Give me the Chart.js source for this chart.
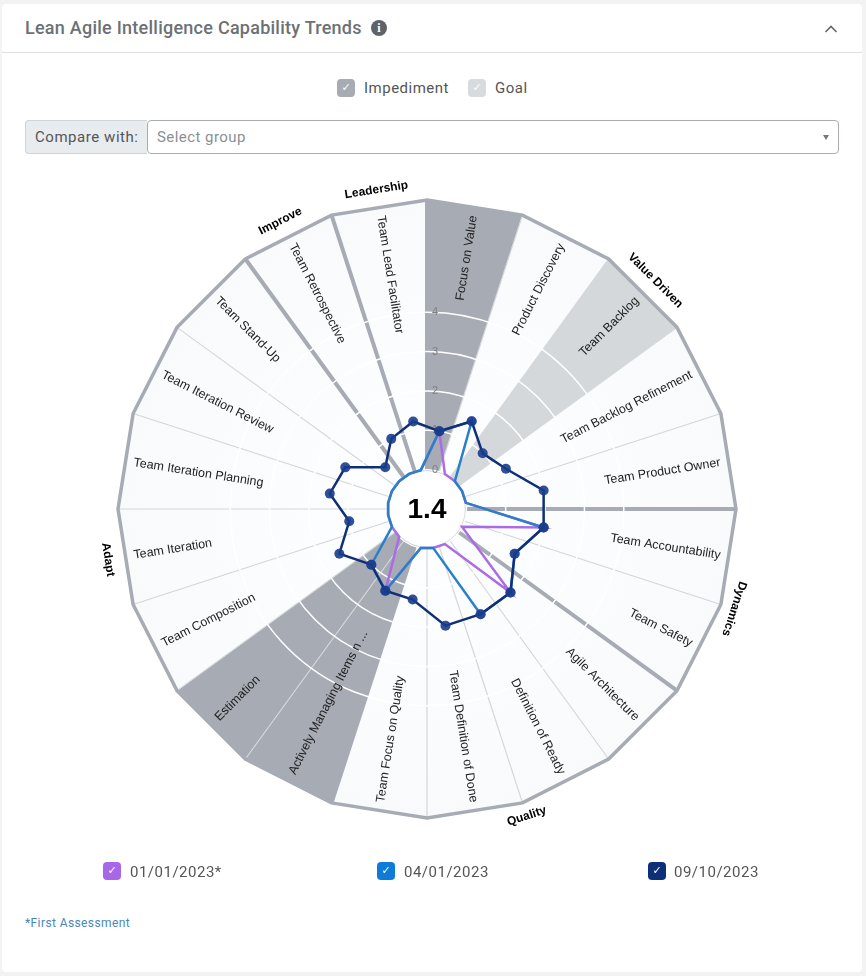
<!DOCTYPE html>
<html>
<head>
<meta charset="utf-8">
<title>Lean Agile Intelligence Capability Trends</title>
<script src="https://cdn.jsdelivr.net/npm/chart.js@4"></script>
<style>
  html, body { margin: 0; padding: 0; background: #f3f3f3; }
  body { width: 866px; height: 976px; position: relative; overflow: hidden; font-family: Roboto, sans-serif; color: #555; }
  #card { position: absolute; left: 2px; top: 4px; width: 860px; height: 968px; background: #fff; border-radius: 4px; }
  #rule { position: absolute; left: 2px; top: 52px; width: 860px; height: 1px; background: #dfe2e5; }
  .abs { position: absolute; white-space: nowrap; }
  #title { left: 25px; top: 17px; font-size: 18px; line-height: 22px; font-weight: 500; color: #6c7176; letter-spacing: 0.25px; }
  #info { left: 371px; top: 20px; width: 16px; height: 16px; border-radius: 50%; background: #5f6368; color: #fff; font: bold 12px/16px "Liberation Serif", serif; text-align: center; }
  .box { position: absolute; width: 18px; height: 18px; border-radius: 4px; color: #fff; font: bold 11px/18px "DejaVu Sans", sans-serif; text-align: center; }
  .lbl { font-size: 15px; line-height: 18px; letter-spacing: 0.5px; color: #555; }
  #prefix { left: 25px; top: 120px; width: 122px; height: 34px; box-sizing: border-box; background: #e9ecef; border: 1px solid #ced4da; border-right: 0; border-radius: 4px 0 0 4px; font-size: 15px; line-height: 33px; padding-left: 9px; letter-spacing: 0.55px; color: #555; }
  #select { left: 147px; top: 120px; width: 692px; height: 34px; box-sizing: border-box; background: #fff; border: 1px solid #a9adb2; border-radius: 4px; font-size: 15px; line-height: 33px; padding-left: 9px; letter-spacing: 0.45px; color: #8a8f94; }
  #caret { left: 823px; top: 135px; width: 0; height: 0; border-left: 3.5px solid transparent; border-right: 3.5px solid transparent; border-top: 5px solid #777; }
  #note { left: 25px; top: 915px; font-size: 12px; line-height: 16px; letter-spacing: 0.4px; color: #4a86b8; }
  #chartWrap { position: absolute; left: 27px; top: 149px; width: 800px; height: 720px; }
</style>
</head>
<body>
<div id="card"></div>
<div id="rule"></div>
<div class="abs" id="title">Lean Agile Intelligence Capability Trends</div>
<div class="abs" id="info">i</div>
<svg class="abs" style="left:824px;top:24px" width="14" height="10"><path d="M1.5 8 L7 2.5 L12.5 8" fill="none" stroke="#666" stroke-width="1.6"/></svg>

<div class="box" style="left:337px;top:79px;background:#a7abb3">✓</div>
<div class="abs lbl" style="left:364px;top:79px">Impediment</div>
<div class="box" style="left:468px;top:79px;background:#d8dbde">✓</div>
<div class="abs lbl" style="left:495px;top:79px">Goal</div>

<div class="abs" id="prefix">Compare with:</div>
<div class="abs" id="select">Select group</div>
<div class="abs" id="caret"></div>

<div id="chartWrap"><canvas id="trendChart" width="800" height="720"></canvas></div>

<div class="box" style="left:103px;top:862px;background:#a866e8">✓</div>
<div class="abs lbl" style="left:130px;top:863px">01/01/2023*</div>
<div class="box" style="left:377px;top:862px;background:#0f7bd8">✓</div>
<div class="abs lbl" style="left:404px;top:863px">04/01/2023</div>
<div class="box" style="left:648px;top:862px;background:#0c2f78">✓</div>
<div class="abs lbl" style="left:674px;top:863px">09/10/2023</div>
<div class="abs" id="note">*First Assessment</div>

<script>
// Capability names, clockwise from the top
const categories = [
    'Focus on Value', 'Product Discovery', 'Team Backlog', 'Team Backlog Refinement', 'Team Product Owner',
    'Team Accountability', 'Team Safety', 'Agile Architecture', 'Definition of Ready', 'Team Definition of Done',
    'Team Focus on Quality', 'Actively Managing Items n ...', 'Estimation', 'Team Composition', 'Team Iteration',
    'Team Iteration Planning', 'Team Iteration Review', 'Team Stand-Up', 'Team Retrospective', 'Team Lead Facilitator'
];

const groupNames = ['Value Driven', 'Dynamics', 'Quality', 'Adapt', 'Improve', 'Leadership'];
const groupStarts = [0, 5, 7, 11, 18, 19];

const impedimentItems = [0, 11, 12];
const goalItems = [2];

const seriesDates = ['01/01/2023*', '04/01/2023', '09/10/2023'];
const valuesFirst = [1, 0, 0, 0, 0, 2, 0, 2, 0, 0, 0, 1.33, 0, 0, 0, 0, 0, 0, 0, 0];
const valuesSecond = [1, 1.5, 0, 0, 0, 2, 1.5, 2, 2, 0, 0, 1.33, 1, 0, 0, 0, 0, 0, 0, 0];
const valuesThird = [1, 1.5, 1, 1.25, 2, 2, 1.5, 2, 2, 2, 1.33, 1.33, 1, 1.5, 1, 1.5, 1.33, 0.5, 1, 1.25];

const tickValues = [0, 1, 2, 3, 4];
const overallScore = '1.4';

const SECTOR_ANGLE = 360 / categories.length;
const HALF_SECTOR = (SECTOR_ANGLE / 2) * Math.PI / 180;
const GRAY = '#a6abb4';

// Point on the scale at a spoke between two sectors
function spokePoint(scale, index, dist) {
    return scale.getPointPosition(index, dist, -HALF_SECTOR);
}

// Sectors, spokes and outline go under the grid; hole and ticks go over it
const wheelPlugin = {
    id: 'wheel',
    beforeDraw(chart) {
        const ctx = chart.ctx;
        const scale = chart.scales.r;
        const R = scale.drawingArea;
        const n = categories.length;
        const cx = scale.xCenter, cy = scale.yCenter;

        ctx.save();
        const paleFill = ctx.createRadialGradient(cx, cy, 40, cx, cy, R);
        paleFill.addColorStop(0, '#fdfeff');
        paleFill.addColorStop(1, '#f8fafc');

        categories.forEach((name, i) => {
            const a = spokePoint(scale, i, R);
            const b = spokePoint(scale, i + 1, R);
            ctx.beginPath();
            ctx.moveTo(cx, cy);
            ctx.lineTo(a.x, a.y);
            ctx.lineTo(b.x, b.y);
            ctx.closePath();
            if (impedimentItems.includes(i)) ctx.fillStyle = GRAY;
            else if (goalItems.includes(i)) ctx.fillStyle = '#d5d8db';
            else ctx.fillStyle = paleFill;
            ctx.fill();
        });

        // thin spokes, then the thick ones where a group starts
        for (let i = 0; i < n; i++) {
            const thick = groupStarts.includes(i);
            const p = spokePoint(scale, i, R);
            ctx.beginPath();
            ctx.moveTo(cx, cy);
            ctx.lineTo(p.x, p.y);
            ctx.strokeStyle = thick ? GRAY : '#d4d7da';
            ctx.lineWidth = thick ? 4 : 1.2;
            ctx.stroke();
        }

        ctx.beginPath();
        for (let i = 0; i < n; i++) {
            const p = spokePoint(scale, i, R);
            if (i === 0) ctx.moveTo(p.x, p.y);
            else ctx.lineTo(p.x, p.y);
        }
        ctx.closePath();
        ctx.strokeStyle = GRAY;
        ctx.lineWidth = 3.5;
        ctx.stroke();
        ctx.restore();
    },
    beforeDatasetsDraw(chart) {
        const ctx = chart.ctx;
        const scale = chart.scales.r;
        const R = scale.drawingArea;
        const cx = scale.xCenter, cy = scale.yCenter;

        ctx.save();
        ctx.textBaseline = 'middle';

        // category names, anchored at their outer end
        ctx.font = '12.5px "Liberation Sans", Arial, sans-serif';
        ctx.fillStyle = '#222';
        categories.forEach((name, i) => {
            const deg = (i + 0.5) * SECTOR_ANGLE;
            const p = scale.getPointPosition(i, R - 12);
            const rightSide = deg < 180;
            ctx.save();
            ctx.translate(p.x, p.y);
            ctx.rotate((rightSide ? deg - 90 : deg - 270) * Math.PI / 180);
            ctx.textAlign = rightSide ? 'right' : 'left';
            ctx.fillText(name, 0, 0);
            ctx.restore();
        });

        // group names outside the outline
        ctx.font = 'bold 12px "Liberation Sans", Arial, sans-serif';
        ctx.fillStyle = '#000';
        ctx.textAlign = 'center';
        groupNames.forEach((name, g) => {
            const from = groupStarts[g];
            const to = g + 1 < groupStarts.length ? groupStarts[g + 1] : categories.length;
            const mid = (from + to) / 2;
            const deg = mid * SECTOR_ANGLE;
            const p = spokePoint(scale, mid, R + 14);
            ctx.save();
            ctx.translate(p.x, p.y);
            const flip = deg > 120 && deg < 300;
            ctx.rotate((flip ? deg - 180 : deg) * Math.PI / 180);
            ctx.fillText(name, 0, 0);
            ctx.restore();
        });

        // centre hole with the overall score
        ctx.beginPath();
        ctx.arc(cx, cy, scale.getDistanceFromCenterForValue(0) - 1, 0, Math.PI * 2);
        ctx.fillStyle = '#fff';
        ctx.fill();
        ctx.strokeStyle = '#d8dbde';
        ctx.lineWidth = 1;
        ctx.stroke();

        ctx.font = '11px "Liberation Sans", Arial, sans-serif';
        ctx.fillStyle = '#7d8187';
        tickValues.forEach(v => {
            ctx.fillText(String(v), cx + 8, cy - scale.getDistanceFromCenterForValue(v));
        });

        ctx.font = 'bold 28px "Liberation Sans", Arial, sans-serif';
        ctx.fillStyle = '#000';
        ctx.fillText(overallScore, cx, cy + 1);
        ctx.restore();
    }
};

function lineDataset(label, data, color, order, dotColor) {
    return {
        label: label,
        data: data,
        order: order,
        borderColor: color,
        backgroundColor: 'transparent',
        borderWidth: 2.5,
        tension: 0,
        fill: false,
        pointRadius: ctx => (ctx.raw > 0 ? 5 : 0),
        pointBackgroundColor: dotColor,
        pointBorderWidth: 0,
        pointHoverRadius: 0
    };
}

new Chart(document.getElementById('trendChart'), {
    type: 'radar',
    data: {
        labels: categories,
        datasets: [
            lineDataset(seriesDates[0], valuesFirst, '#ab6ae6', 3, 'rgba(30,60,140,0.45)'),
            lineDataset(seriesDates[1], valuesSecond, '#2a80c8', 2, 'rgba(30,60,140,0.45)'),
            lineDataset(seriesDates[2], valuesThird, '#102f78', 1, 'rgba(24,60,140,0.9)')
        ]
    },
    options: {
        responsive: false,
        animation: false,
        layout: { padding: { left: 91, right: 91, top: 51, bottom: 51 } },
        plugins: { legend: { display: false }, tooltip: { enabled: false } },
        scales: {
            r: {
                min: -1,
                max: 6.85,
                startAngle: SECTOR_ANGLE / 2,
                afterBuildTicks: scale => { scale.ticks = tickValues.map(v => ({ value: v })); },
                grid: { circular: true, color: '#ffffff', lineWidth: 1.5 },
                angleLines: { display: false },
                pointLabels: { display: false },
                ticks: { display: false }
            }
        }
    },
    plugins: [wheelPlugin]
});
</script>
</body>
</html>
